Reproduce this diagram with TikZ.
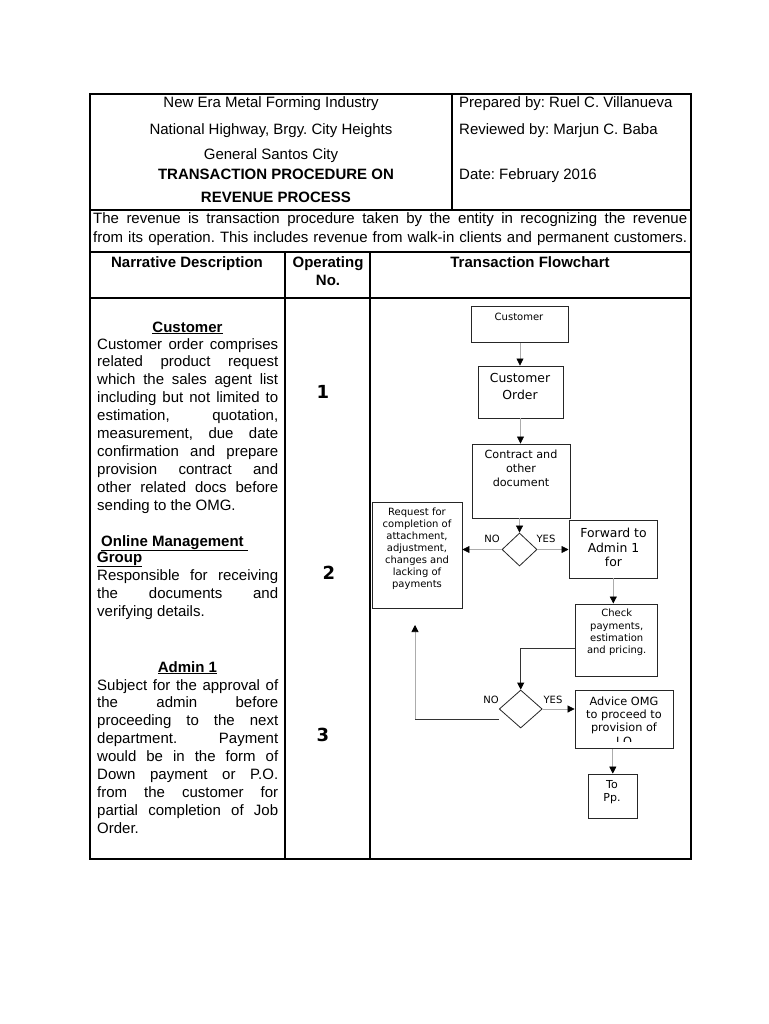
\documentclass[tikz,border=0pt]{standalone}
\usepackage{fontspec}
\setmainfont{Liberation Sans}
\newfontfamily\dvs{DejaVu Sans}
\usetikzlibrary{arrows.meta,shapes.geometric,calc}
\newcommand\myfs[2]{\fontsize{#1}{#2}\selectfont}
\frenchspacing
\tikzset{
  tbl/.style={line width=1.2pt, draw=black},
  txt/.style={inner sep=0pt, font=\myfs{15}{18}},
  btxt/.style={inner sep=0pt, font=\myfs{15}{18}\bfseries},
  numtxt/.style={inner sep=0pt, font=\dvs\myfs{18}{20}\bfseries},
  fbox/.style={draw=black!85, line width=0.9pt, inner sep=0pt},
  ft/.style={inner sep=0pt, align=center},
  lbl/.style={inner sep=0pt, font=\dvs\myfs{10}{12}},
  dia/.style={diamond, draw=black!85, line width=0.8pt, inner sep=0pt},
  conn/.style={draw=gray!65, line width=0.7pt, -{Triangle[length=7pt,width=7pt,color=black]}},
  darkconn/.style={draw=black!80, line width=0.9pt},
}
\begin{document}
\begin{tikzpicture}[x=1pt,y=-1pt]
\useasboundingbox (0,0) rectangle (768,1024);
\fill[white] (0,0) rectangle (768,1024);

% ---------- table frame ----------
\draw[tbl] (90,94) rectangle (691,859);
\draw[tbl] (90,210) -- (691,210);
\draw[tbl] (90,252) -- (691,252);
\draw[tbl] (90,298) -- (691,298);
\draw[tbl] (452,94) -- (452,210);
\draw[tbl] (285,252) -- (285,859);
\draw[tbl,line width=1.5pt] (370,252) -- (370,859);

% ---------- header ----------
\node[txt,anchor=base] (h1) at (271,108) {New Era Metal Forming Industry};
\node[txt,anchor=base] (h2) at (271,135) {National Highway, Brgy. City Heights};
\node[txt,anchor=base] (h3) at (271,160) {General Santos City};
\node[btxt,anchor=base] (h4) at (276,179.5) {TRANSACTION PROCEDURE ON};
\node[btxt,anchor=base] (h5) at (276,202.5) {REVENUE PROCESS};
\node[txt,anchor=base west] (p1) at (459,108) {Prepared by: Ruel C. Villanueva};
\node[txt,anchor=base west] (p2) at (459,135) {Reviewed by: Marjun C. Baba};
\node[txt,anchor=base west] (p3) at (459,180) {Date: February 2016};

% ---------- description ----------
\node[txt,anchor=base west] (ds1) at (93,224) {\makebox[594pt][s]{The revenue is transaction procedure taken by the entity in recognizing the revenue}};
\node[txt,anchor=base west] (ds2) at (93,243) {\makebox[594pt][s]{from its operation. This includes revenue from walk-in clients and permanent customers.}};

% ---------- column headers ----------
\node[btxt,anchor=base] (c1) at (187,267) {Narrative Description};
\node[btxt,anchor=base] (c2) at (328,267) {Operating};
\node[btxt,anchor=base] (c3) at (328,285) {No.};
\node[btxt,anchor=base] (c4) at (530,267) {Transaction Flowchart};

% ---------- narrative ----------
\node[btxt,anchor=base] (n1h) at (187.5,332) {\underline{Customer}};
\foreach \t [count=\i] in {{Customer order comprises},{related product request},{which the sales agent list},{including but not limited to},{estimation, quotation,},{measurement, due date},{confirmation and prepare},{provision contract and},{other related docs before}}
  {\node[txt,anchor=base west] (na\i) at (97,{349+17.9*(\i-1)}) {\makebox[181pt][s]{\t}};}
\node[txt,anchor=base west] (na10) at (97,510) {sending to the OMG.};

\node[btxt,anchor=base west] (n2h) at (101,546) {\underline{Online Management\ }};
\node[btxt,anchor=base west] (n2g) at (97,562) {\underline{Group}};
\node[txt,anchor=base west] (nb1) at (97,580) {\makebox[181pt][s]{Responsible for receiving}};
\node[txt,anchor=base west] (nb2) at (97,598) {\makebox[181pt][s]{the documents and}};
\node[txt,anchor=base west] (nb3) at (97,616) {verifying details.};

\node[btxt,anchor=base] (n3h) at (187.5,672) {\underline{Admin 1}};
\foreach \t [count=\i] in {{Subject for the approval of},{the admin before},{proceeding to the next},{department. Payment},{would be in the form of},{Down payment or P.O.},{from the customer for},{partial completion of Job}}
  {\node[txt,anchor=base west] (nc\i) at (97,{690+17.9*(\i-1)}) {\makebox[181pt][s]{\t}};}
\node[txt,anchor=base west] (nc9) at (97,833) {Order.};

% ---------- operating numbers ----------
\node[numtxt] (o1) at (323,392) {1};
\node[numtxt] (o2) at (329,573) {2};
\node[numtxt] (o3) at (323,735) {3};

% ---------- flowchart boxes ----------
\node[fbox,minimum width=97pt,minimum height=36.5pt] (cust) at (520,324.2) {};
\node[fbox,minimum width=85pt,minimum height=52pt] (order) at (520.5,392) {};
\node[fbox,minimum width=98pt,minimum height=74pt] (contract) at (521,481) {};
\node[fbox,minimum width=90pt,minimum height=106pt] (req) at (417,555) {};
\node[fbox,minimum width=88.7pt,minimum height=57.3pt] (fwd) at (613.3,549.3) {};
\node[fbox,minimum width=82pt,minimum height=72.7pt] (check) at (616.7,640.3) {};
\node[fbox,minimum width=98.3pt,minimum height=58.3pt] (adv) at (624.2,719.2) {};
\node[fbox,minimum width=49pt,minimum height=44.3pt] (to) at (612.8,796.2) {};
\node[dia,minimum width=35pt,minimum height=33pt] (d1) at (519.5,549.5) {};
\node[dia,minimum width=43pt,minimum height=38pt] (d2) at (520.7,709) {};

% ---------- flowchart texts ----------
\node[ft,font=\dvs\myfs{10}{12}] (custt) at (519,317) {Customer};
\node[ft,font=\dvs\myfs{12.4}{17}] (ordert) at (520,386) {Customer\\Order};
\node[ft,font=\dvs\myfs{11.2}{14}] (contractt) at (521,468) {Contract and\\other\\document};
\node[ft,font=\dvs\myfs{10}{12}] (reqt) at (417,549) {Request for\\completion of\\attachment,\\adjustment,\\changes and\\lacking of\\payments};
\node[ft,font=\dvs\myfs{12.4}{14.6}] (fwdt) at (613.5,547.5) {Forward to\\Admin 1\\for};
\node[ft,font=\dvs\myfs{10}{12.2}] (checkt) at (616.7,632.5) {Check\\payments,\\estimation\\and pricing.};
\begin{scope}
  \clip (adv.north west) rectangle ([yshift=7pt]adv.south east);
  \node[ft,font=\dvs\myfs{11.3}{13.3}] (advt) at (624,722) {Advice OMG\\to proceed to\\provision of\\J.O};
\end{scope}
\node[ft,font=\dvs\myfs{11}{13.5}] (tot) at (612,792) {To\\Pp.};

\node[lbl] (no1) at (492,539) {NO};
\node[lbl] (yes1) at (546,539) {YES};
\node[lbl] (no2) at (491,700) {NO};
\node[lbl] (yes2) at (553,700) {YES};

% ---------- connectors ----------
\draw[conn] (cust.south) -- (cust.south |- order.north);
\draw[conn] (order.south) -- (order.south |- contract.north);
\draw[conn] (d1.north |- contract.south) -- (d1.north);
\draw[conn] (d1.west) -- (d1.west -| req.east);
\draw[conn] (d1.east) -- (d1.east -| fwd.west);
\draw[conn] (fwd.south) -- (fwd.south |- check.north);
\draw[darkconn,-{Triangle[length=7pt,width=7pt,color=black]}] ([yshift=-8pt]check.west) -| (d2.north);
\draw[conn] (d2.east) -- (d2.east -| adv.west);
\draw[conn] (to.north |- adv.south) -- (to.north);
\coordinate (lc) at (415,719);
\coordinate (le) at (415,625);
\draw[darkconn] ([yshift=-10pt]d2.west) -- (lc);
\draw[conn] (lc) -- (le);
\end{tikzpicture}
\end{document}
